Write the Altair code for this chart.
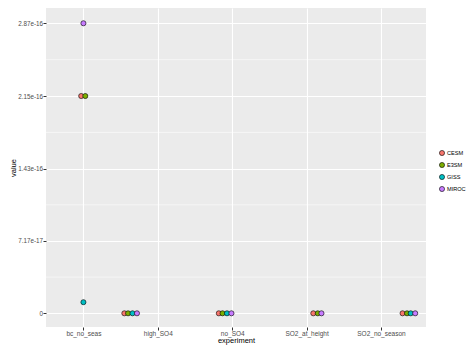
import altair as alt
import pandas as pd

# ---- data ----
experiments = ["bc_no_seas", "high_SO4", "no_SO4", "SO2_at_height", "SO2_no_season"]
models = ["CESM", "E3SM", "GISS", "MIROC"]
colors = ["#F8766D", "#7CAE00", "#00BFC4", "#C77CFF"]

point_experiment = ["bc_no_seas", "bc_no_seas", "bc_no_seas", "bc_no_seas",
                    "high_SO4", "high_SO4", "high_SO4", "high_SO4",
                    "no_SO4", "no_SO4", "no_SO4", "no_SO4",
                    "SO2_at_height", "SO2_at_height", "SO2_at_height",
                    "SO2_no_season", "SO2_no_season", "SO2_no_season", "SO2_no_season"]
point_model = ["CESM", "E3SM", "GISS", "MIROC",
               "CESM", "E3SM", "GISS", "MIROC",
               "CESM", "E3SM", "GISS", "MIROC",
               "CESM", "E3SM", "MIROC",
               "CESM", "E3SM", "GISS", "MIROC"]
point_value = [2.15e-16, 2.15e-16, 1.1e-17, 2.87e-16,
               0, 0, 0, 0,
               0, 0, 0, 0,
               0, 0, 0,
               0, 0, 0, 0]
# horizontal jitter of each point, in category units
point_jitter = [-0.03, 0.025, 0.0, 0.0,
                -0.45, -0.40, -0.34, -0.28,
                -0.18, -0.13, -0.07, -0.01,
                0.09, 0.15, 0.20,
                0.29, 0.35, 0.40, 0.46]

y_breaks = [0, 7.17e-17, 1.43e-16, 2.15e-16, 2.87e-16]
y_minor = [(a + b) / 2 for a, b in zip(y_breaks[:-1], y_breaks[1:])]

df = pd.DataFrame({
    "experiment": point_experiment,
    "model": point_model,
    "value": point_value,
    "xpos": [experiments.index(e) + 1 + j for e, j in zip(point_experiment, point_jitter)],
})
minor_df = pd.DataFrame({"value": y_minor})

x_label_expr = "[" + ",".join("'" + e + "'" for e in experiments) + "][datum.value - 1]"

yscale = alt.Scale(domain=[-1.356e-17, 3.021e-16], nice=False, zero=False)
xscale = alt.Scale(domain=[0.497, 5.605], nice=False, zero=False)

yaxis = alt.Axis(values=y_breaks,
                 labelExpr="datum.value == 0 ? '0' : format(datum.value, '.2e')",
                 title="value", grid=True, labelPadding=0.5, labelFontSize=6.3,
                 titleX=-29, titleFontWeight="normal", titleFontSize=7.5)

minor = alt.Chart(minor_df).mark_rule(color="white", strokeWidth=0.55).encode(
    y=alt.Y("value:Q", scale=yscale, axis=yaxis)
)

points = alt.Chart(df).mark_point(
    filled=True, size=26, stroke="black", strokeWidth=0.6, opacity=1
).encode(
    x=alt.X("xpos:Q", scale=xscale,
            axis=alt.Axis(values=[1, 2, 3, 4, 5], labelExpr=x_label_expr,
                          title="experiment", grid=True, labelPadding=0,
                          titlePadding=0, labelFlush=False,
                          titleFontWeight="normal", titleFontSize=7.5)),
    y=alt.Y("value:Q", scale=yscale, axis=yaxis),
    color=alt.Color("model:N", scale=alt.Scale(domain=models, range=colors),
                    legend=alt.Legend(title=None, orient="none", legendX=393, legendY=142,
                                      symbolType="circle", symbolSize=26,
                                      symbolStrokeColor="black", symbolStrokeWidth=0.6,
                                      labelFont="Liberation Sans", labelFontSize=5.6,
                                      labelColor="black", rowPadding=4, padding=0,
                                      labelOffset=2)),
)

chart = alt.layer(minor, points).properties(
    width=380, height=319,
    autosize=alt.AutoSizeParams(type="none"),
    padding={"left": 38, "top": 0, "right": 40, "bottom": 20},
).configure_view(
    fill="#EBEBEB", strokeWidth=0
).configure_axis(
    domain=False, tickColor="#333333", tickSize=3, tickWidth=1,
    labelColor="#4D4D4D", labelFont="Liberation Sans", labelFontSize=6.5,
    titleFont="Liberation Sans", titleColor="black",
    gridColor="white", gridWidth=1.1
)

chart.save("out.html", embed_options={"renderer": "svg", "actions": False})
